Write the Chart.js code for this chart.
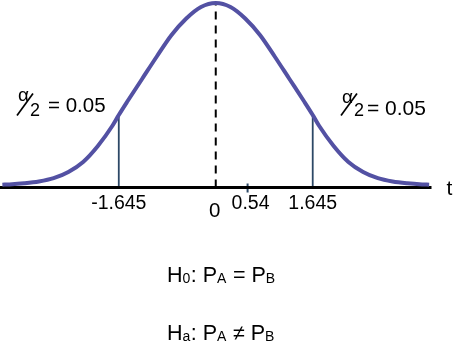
<!DOCTYPE html>
<html><head><meta charset="utf-8">
<script src="https://cdn.jsdelivr.net/npm/chart.js@4.4.1/dist/chart.umd.min.js"></script>
<style>html,body{margin:0;padding:0;background:#fff;overflow:hidden}canvas{display:block}</style>
</head><body>
<canvas id="c" width="453" height="347"></canvas>
<script>
// ---- data ----
const tValues = [-3.62,-3.5,-3.25,-3.0,-2.75,-2.5,-2.25,-2.0,-1.75,-1.645,-1.5,-1.25,-1.0,-0.75,-0.5,-0.25,0,0.25,0.5,0.75,1.0,1.25,1.5,1.645,1.75,2.0,2.25,2.5,2.75,3.0,3.25,3.5,3.62];
const curveHeights = [2.8,3.1,4.2,6.0,9.3,15.5,25.5,41.5,62,72.5,86,108.5,131,152.5,169,180.5,184.5,180.5,169,152.5,131,108.5,86,72.5,62,41.5,25.5,15.5,9.3,6.0,4.2,3.1,2.8];
const criticalValues = [-1.645, 1.645];
const criticalHeights = [72.5, 72.5];
const testStatistic = 0.54;
const peakHeight = 184.5;
const tickValues = [-1.645, 0, 0.54, 1.645];
const tickLabels = ['-1.645', '0', '0.54', '1.645'];
const alphaHalfText = '= 0.05';
const axisLabel = 't';
const xRange = [-3.66, 3.66];
const nullHypothesis = [{t:'H'},{t:'0',sub:true},{t:': P'},{t:'A',sub:true},{t:' = P'},{t:'B',sub:true}];
const altHypothesis = [{t:'H'},{t:'a',sub:true},{t:': P'},{t:'A',sub:true},{t:' ≠ P'},{t:'B',sub:true}];

const FONT = "'Liberation Sans', Arial, sans-serif";
const curveColor = '#5351a3';
const lineColor = '#2c4866';

const curvePts = tValues.map((t, i) => ({x: t, y: curveHeights[i]}));

const labelsPlugin = {
  id: 'labels',
  afterDraw(chart) {
    const ctx = chart.ctx;
    const xs = chart.scales.x, ys = chart.scales.y;
    const base = ys.getPixelForValue(0);
    ctx.save();
    ctx.fillStyle = '#000';
    ctx.textBaseline = 'alphabetic';
    // tick labels
    tickValues.forEach((v, i) => {
      const px = xs.getPixelForValue(v);
      ctx.textAlign = 'center';
      if (tickLabels[i] === '0') {
        ctx.font = '20.5px ' + FONT;
        ctx.fillText(tickLabels[i], px - 1, base + 29.5);
      } else {
        ctx.font = '19.5px ' + FONT;
        ctx.fillText(tickLabels[i], px + (v === testStatistic ? 3 : 0), base + 21.5);
      }
    });
    // axis label
    ctx.font = '21px ' + FONT;
    ctx.textAlign = 'left';
    ctx.fillText(axisLabel, xs.right + 15, base + 7.5);
    // alpha/2 labels
    function alphaLabel(x0, yA, y2, yT, tx, fs) {
      ctx.textAlign = 'left';
      ctx.font = '19px ' + FONT;
      ctx.fillText('α', x0 + 1, yA);
      ctx.beginPath();
      ctx.strokeStyle = '#000';
      ctx.lineWidth = 1.7;
      ctx.moveTo(x0, y2);
      ctx.lineTo(x0 + 16, y2 - 22);
      ctx.stroke();
      ctx.font = '18px ' + FONT;
      ctx.fillText('2', x0 + 13, y2);
      ctx.font = fs + 'px ' + FONT;
      ctx.fillText(alphaHalfText, tx, yT);
    }
    alphaLabel(17, 101, 115.5, 111.5, 48, 20.5);
    alphaLabel(341, 103, 115.5, 115, 367, 21);
    // hypotheses
    function hyp(parts, x, y) {
      let cx = x;
      parts.forEach(p => {
        ctx.font = (p.sub ? '14px ' : '21.5px ') + FONT;
        ctx.fillText(p.t, cx, y + (p.sub ? 1 : 0));
        cx += ctx.measureText(p.t).width + (p.sub ? 0.5 : 0);
      });
    }
    ctx.textAlign = 'left';
    hyp(nullHypothesis, 167, 282);
    hyp(altHypothesis, 167, 340);
    ctx.restore();
  }
};

new Chart(document.getElementById('c'), {
  type: 'line',
  data: {
    datasets: [
      {data: curvePts, borderColor: curveColor, borderWidth: 4, pointRadius: 0, cubicInterpolationMode: 'monotone', clip: false, order: 1},
      {data: [{x: criticalValues[0], y: 0}, {x: criticalValues[0], y: criticalHeights[0]}], borderColor: lineColor, borderWidth: 1.8, pointRadius: 0, clip: false, order: 3},
      {data: [{x: criticalValues[1], y: 0}, {x: criticalValues[1], y: criticalHeights[1]}], borderColor: lineColor, borderWidth: 1.8, pointRadius: 0, clip: false, order: 3},
      {data: [{x: 0, y: 0}, {x: 0, y: peakHeight}], borderColor: '#000', borderWidth: 2, borderDash: [8, 6], pointRadius: 0, clip: false, order: 3},
      {data: [{x: testStatistic, y: -5}, {x: testStatistic, y: 4}], borderColor: lineColor, borderWidth: 2, pointRadius: 0, clip: false, order: 3},
      {data: [{x: xRange[0], y: 0}, {x: xRange[1], y: 0}], borderColor: '#000', borderWidth: 3, pointRadius: 0, clip: false, order: 2}
    ]
  },
  options: {
    responsive: false,
    animation: false,
    devicePixelRatio: 1,
    layout: {padding: {left: 0, right: 21.5, top: 0, bottom: 159.5}},
    plugins: {legend: {display: false}, tooltip: {enabled: false}},
    scales: {
      x: {type: 'linear', min: xRange[0], max: xRange[1], display: false},
      y: {type: 'linear', min: 0, max: 187.5, display: false}
    }
  },
  plugins: [labelsPlugin]
});
</script>
</body></html>
